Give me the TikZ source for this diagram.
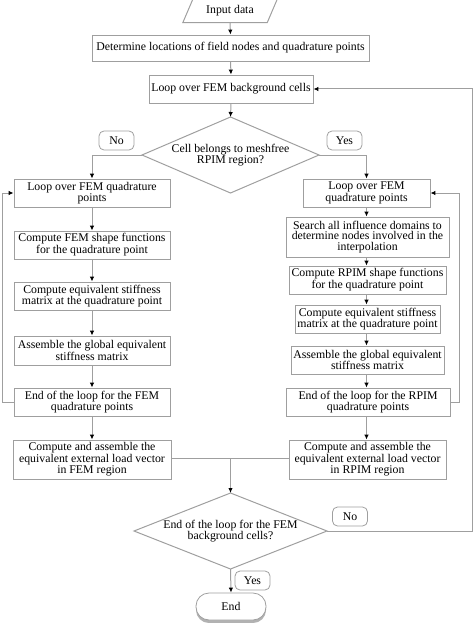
\documentclass[tikz,border=0pt]{standalone}
\usepackage{fontspec}
\setmainfont{Liberation Serif}
\usetikzlibrary{arrows.meta,shapes.geometric,calc,shadows}
\begin{document}
\begin{tikzpicture}[x=1pt,y=-1pt,
  every node/.style={font=\fontsize{11.8}{10.3}\selectfont, align=center, inner sep=0pt},
  proc/.style={draw=gray!75, line width=0.8pt, rectangle, fill=white},
  tag/.style={draw=gray!75, line width=0.8pt, rounded corners=5pt, minimum width=35pt, minimum height=19pt},
  line/.style={draw=gray!75, line width=1pt},
  arr/.style={line, -{Latex[length=5pt,width=4.5pt,color=black]}}
]
\useasboundingbox (0,0) rectangle (474,623);
% start
\node (in) [minimum width=84pt, minimum height=23pt] at (230,11) {Input data};
\draw[line] ($(in.south west)+(-5,0)$) -- ($(in.north west)+(5,0)$) -- ($(in.north east)+(5,0)$) -- ($(in.south east)+(-5,0)$) -- cycle;
\node (det) [proc, minimum width=277pt, minimum height=26pt] at (230.5,48) {Determine locations of field nodes and quadrature points};
\node (loop) [proc, minimum width=164pt, minimum height=28pt] at (231,89) {Loop over FEM background cells};
% decision 1
\draw[line] (230.5,117) coordinate (d1t) -- (319,155) coordinate (d1r) -- (230.5,193) coordinate (d1b) -- (142,155) coordinate (d1l) -- cycle;
\node (d1txt) at (230.5,155) {Cell belongs to meshfree\\RPIM region?};
\node (no1) [tag] at (116.5,140.5) {No};
\node (yes1) [tag] at (344.5,140.5) {Yes};
% left column
\node (L1) [proc, minimum width=156pt, minimum height=28pt] at (92,193) {Loop over FEM quadrature\\points};
\node (L2) [proc, minimum width=156pt, minimum height=28pt] at (92,245) {Compute FEM shape functions\\for the quadrature point};
\node (L3) [proc, minimum width=156pt, minimum height=28pt] at (92,296) {Compute equivalent stiffness\\matrix at the quadrature point};
\node (L4) [proc, minimum width=156pt, minimum height=29pt] at (92,350.5) {Assemble the global equivalent\\stiffness matrix};
\node (L5) [proc, minimum width=156pt, minimum height=28pt] at (92,402) {End of the loop for the FEM\\quadrature points};
\node (L6) [proc, minimum width=158pt, minimum height=39pt] at (92,459.5) {Compute and assemble the\\equivalent external load vector\\in FEM region};
% right column
\node (R1) [proc, minimum width=127pt, minimum height=28pt] at (366.5,193) {Loop over FEM\\quadrature points};
\node (R2) [proc, minimum width=163pt, minimum height=40pt] at (367.5,237) {Search all influence domains to\\determine nodes involved in the\\interpolation};
\node (R3) [proc, minimum width=157pt, minimum height=28pt] at (367.5,280) {Compute RPIM shape functions\\for the quadrature point};
\node (R4) [proc, minimum width=145pt, minimum height=28pt] at (367.5,319) {Compute equivalent stiffness\\matrix at the quadrature point};
\node (R5) [proc, minimum width=153pt, minimum height=28pt] at (367.5,360) {Assemble the global equivalent\\stiffness matrix};
\node (R6) [proc, minimum width=164pt, minimum height=28pt] at (368,402) {End of the loop for the RPIM\\quadrature points};
\node (R7) [proc, minimum width=157pt, minimum height=39pt] at (367.5,459.5) {Compute and assemble the\\equivalent external load vector\\in RPIM region};
% decision 2
\draw[line] (230.5,493) coordinate (d2t) -- (327,531) coordinate (d2r) -- (230.5,569) coordinate (d2b) -- (134,531) coordinate (d2l) -- cycle;
\node (d2txt) at (230.5,531) {End of the loop for the FEM\\background cells?};
\node (no2) [tag] at (350,516.5) {No};
\node (yes2) [tag] at (252.5,580.5) {Yes};
% end
\node (end) [draw=gray!75, line width=0.8pt, rounded corners=13pt, minimum width=70pt, minimum height=27pt, fill=white,
  drop shadow={shadow xshift=0pt, shadow yshift=-3pt, fill=gray!60, opacity=1}] at (231,606.5) {End};
% connectors
\draw[arr] (in.south) -- (det.north);
\draw[arr] (det.north |- det.south) -- (loop.north);
\draw[arr] (loop.south) -- (d1t);
\draw[arr] (d1l) -| (L1.north);
\draw[arr] (d1r) -| (R1.north);
\draw[arr] (L1) -- (L2);
\draw[arr] (L2) -- (L3);
\draw[arr] (L3) -- (L4);
\draw[arr] (L4) -- (L5);
\draw[arr] (L5) -- (L6);
\draw[arr] (L5.west) -- ++(-11,0) |- (L1.west);
\draw[arr] (R1.south) -- (R1.south |- R2.north);
\draw[arr] (R1.south |- R2.south) -- (R1.south |- R3.north);
\draw[arr] (R1.south |- R3.south) -- (R1.south |- R4.north);
\draw[arr] (R1.south |- R4.south) -- (R1.south |- R5.north);
\draw[arr] (R1.south |- R5.south) -- (R1.south |- R6.north);
\draw[arr] (R1.south |- R6.south) -- (R1.south |- R7.north);
\draw[arr] (R6.east) -- (459,402) |- (R1.east);
\coordinate (junc) at (230.5,458);
\draw[line] (L6.east |- junc) -- (R7.west |- junc);
\draw[arr] (junc) -- (d2t);
\draw[arr] (d2r) -- (472,531) |- (loop.east);
\draw[arr] (d2b) -- (end.north);
\end{tikzpicture}
\end{document}
